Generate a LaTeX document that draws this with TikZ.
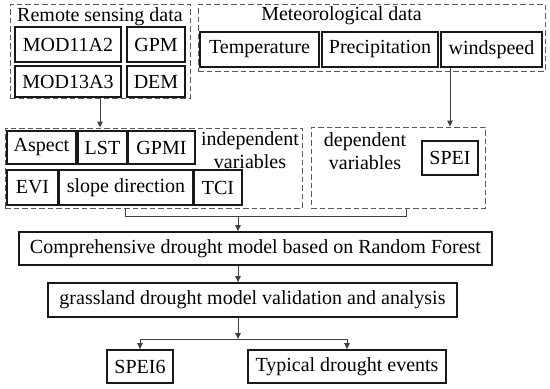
\documentclass[tikz,border=0pt]{standalone}
\usepackage{fontspec}
\setmainfont{Liberation Serif}
\usetikzlibrary{arrows.meta}
\begin{document}
\begin{tikzpicture}[x=1pt,y=-1pt,
  every node/.style={font=\fontsize{20}{23.5}\selectfont, inner sep=0pt},
  box/.style={draw=black!90, line width=1.8pt, rectangle},
  group/.style={draw=black!65, line width=1pt, dash pattern=on 5.5pt off 3pt, rectangle},
  conn/.style={draw=black!75, line width=1pt},
  arr/.style={conn, -{Triangle[length=6pt,width=5.5pt]}},
  lbl/.style={align=center}
]
\useasboundingbox (0,0) rectangle (550,389);

% groups
\node[group, minimum width=180, minimum height=94] (rs) at (100,51) {};
\node[anchor=base] (rst) at (100,21) {Remote sensing data};
\node[box, minimum width=106, minimum height=35] (mod11) at (68,44.5) {MOD11A2};
\node[box, minimum width=58, minimum height=35] (gpm) at (156,44.5) {GPM};
\node[box, minimum width=106, minimum height=31] (mod13) at (68,81.5) {MOD13A3};
\node[box, minimum width=58, minimum height=31] (dem) at (156,81.5) {DEM};

\node[group, minimum width=347, minimum height=67] (met) at (371.5,37.5) {};
\node[anchor=base] (mett) at (341.5,20.5) {Meteorological data};
\node[box, minimum width=119, minimum height=35] (temp) at (259.5,49.5) {Temperature};
\node[box, minimum width=116, minimum height=35] (prec) at (380,49.5) {Precipitation};
\node[box, minimum width=101, minimum height=35] (wind) at (491.5,49.5) {windspeed};

\node[group, minimum width=297, minimum height=80] (indep) at (153.5,168) {};
\node[box, minimum width=69, minimum height=33] (aspect) at (41.5,147.5) {Aspect};
\node[box, minimum width=49, minimum height=33] (lst) at (102.5,147.5) {LST};
\node[box, minimum width=67, minimum height=33] (gpmi) at (161.5,147.5) {GPMI};
\node[box, minimum width=51, minimum height=35] (evi) at (32.5,187.5) {EVI};
\node[box, minimum width=134, minimum height=35] (slope) at (126,187.5) {slope direction};
\node[box, minimum width=48, minimum height=35] (tci) at (218,187.5) {TCI};
\node[lbl] (indl) at (250,150) {independent\\variables};

\node[group, minimum width=174, minimum height=81] (dep) at (398,167.5) {};
\node[lbl] (depl) at (365,151) {dependent\\variables};
\node[box, minimum width=56, minimum height=34] (spei) at (450,158) {SPEI};

\node[box, minimum width=473, minimum height=33] (comp) at (255.5,248.5) {Comprehensive drought model based on Random Forest};
\node[box, minimum width=409, minimum height=34] (grass) at (252.5,300) {grassland drought model validation and analysis};
\node[box, minimum width=66, minimum height=33] (spei6) at (140,366.5) {SPEI6};
\node[box, minimum width=198, minimum height=33] (typ) at (347,366.5) {Typical drought events};

% connectors
\coordinate (wx) at (450,0);
\coordinate (ja) at (125,216);
\coordinate (jb) at (406,216);
\coordinate (jm) at (238,216);
\coordinate (jm2) at (238,339);

\draw[arr] (rs.south) -- (rs.south |- indep.north);
\draw[arr] (wind.south -| wx) -- (dep.north -| wx);
\draw[conn] (indep.south -| ja) -- (ja) -- (jb) -- (dep.south -| jb);
\draw[arr] (jm) -- (comp.north -| jm);
\draw[arr] (comp.south -| jm) -- (grass.north -| jm);
\draw[arr] (grass.south -| jm) -- (jm2);
\draw[arr] (jm2) -| (spei6.north);
\draw[arr] (jm2) -| (typ.north);
\end{tikzpicture}
\end{document}
